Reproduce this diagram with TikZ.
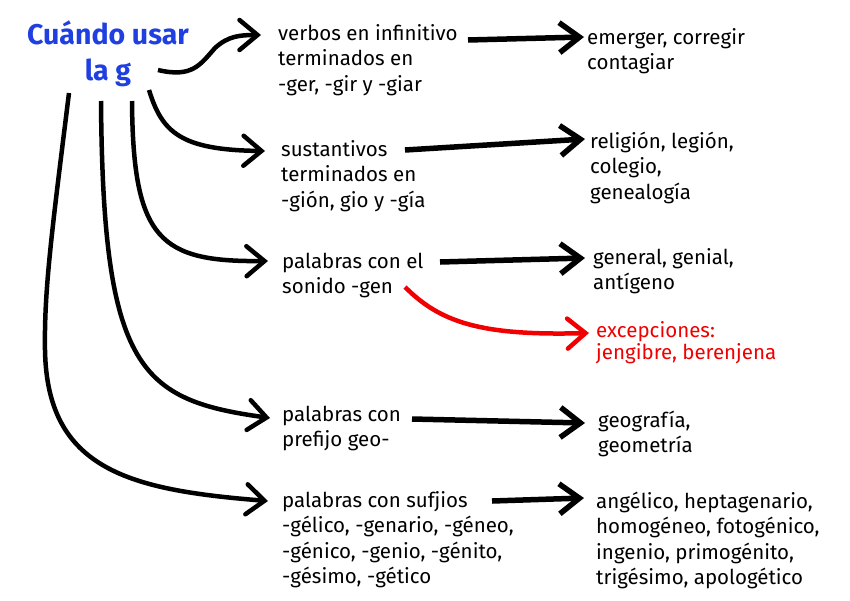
\documentclass[tikz,border=0pt]{standalone}
\usepackage{fontspec}
\setmainfont{Fira Sans}
\usetikzlibrary{arrows.meta}
\definecolor{titleblue}{HTML}{1F3FE0}
\definecolor{exred}{HTML}{F00000}
\tikzset{
  txt/.style={anchor=base west, inner sep=0pt, align=left, font=\fontsize{20.5}{25.5}\selectfont},
  redtxt/.style={txt, text=exred, font=\fontsize{20.5}{22}\selectfont},
  title/.style={inner sep=0pt, align=center, text=titleblue, font=\fontsize{28.5}{36}\selectfont\bfseries},
  curv/.style={line width=4.5pt, -{Straight Barb[length=18pt,width=30pt,line cap=round]}},
  straight/.style={line width=5.5pt, -{Straight Barb[length=20pt,width=30pt]}},
}
\begin{document}
\begin{tikzpicture}[x=1pt,y=-1pt]
\useasboundingbox (0,0) rectangle (850,600);
\fill[white] (0,0) rectangle (850,600);
\node[title] (T) at (108,54) {Cuándo usar\\la g};

% nodes are placed at the baseline of their last line
\node[txt] (t1) at (278,91) {verbos en infinitivo\\terminados en\\-ger, -gir y -giar};
\node[txt] (e1) at (587,69.5) {emerger, corregir\\contagiar};
\node[txt] (t2) at (281,207) {sustantivos\\terminados en\\-gión, gio y -gía};
\node[txt] (e2) at (590,199) {religión, legión,\\colegio,\\genealogía};
\node[txt] (t3) at (282,293.5) {palabras con el\\sonido -gen};
\node[txt] (e3) at (593,289.5) {general, genial,\\antígeno};
\node[redtxt] (x3) at (596,359) {excepciones:\\jengibre, berenjena};
\node[txt] (t4) at (282,446.5) {palabras con\\prefijo geo-};
\node[txt] (e4) at (598,452.5) {geografía,\\geometría};
\node[txt] (t5) at (282,583.5) {palabras con sufjios\\-gélico, -genario, -géneo,\\-génico, -genio, -génito,\\-gésimo, -gético};
\node[txt] (e5) at (596,584.5) {angélico, heptagenario,\\homogéneo, fotogénico,\\ingenio, primogénito,\\trigésimo, apologético};

% start / end points of connectors
\coordinate (s1) at (158,70);  \coordinate (p1) at (261,35);
\coordinate (s2) at (149,90);  \coordinate (p2) at (265,151);
\coordinate (s3) at (132,101); \coordinate (p3) at (268,261);
\coordinate (s4) at (101,101); \coordinate (p4) at (270,418);
\coordinate (s5) at (69,93);   \coordinate (m5) at (45,350); \coordinate (p5) at (268,501);

\draw[curv] (s1) .. controls (192,78) and (200,65) .. (215,48) .. controls (228,36) and (240,35) .. (p1);
\draw[curv] (s2) .. controls (162,132) and (180,150) .. (p2);
\draw[curv] (s3) .. controls (133,240) and (160,262) .. (p3);
\draw[curv] (s4) .. controls (103,370) and (140,400) .. (p4);
\draw[curv] (s5) .. controls (52,230) and (44,290) .. (m5) .. controls (47,470) and (130,490) .. (p5);

\coordinate (q1) at (468,40);  \coordinate (r1) at (584,37);
\coordinate (q2) at (405,150); \coordinate (r2) at (585,139);
\coordinate (q3) at (440,262); \coordinate (r3) at (585,258);
\coordinate (q4) at (412,419); \coordinate (r4) at (585,423);
\coordinate (q5) at (492,501); \coordinate (r5) at (584,498);
\draw[straight] (q1) -- (r1);
\draw[straight] (q2) -- (r2);
\draw[straight] (q3) -- (r3);
\draw[straight] (q4) -- (r4);
\draw[straight] (q5) -- (r5);

\coordinate (q6) at (405,287); \coordinate (r6) at (589,333);
\draw[curv, exred] (q6) .. controls (440,322) and (480,336) .. (r6);
\end{tikzpicture}
\end{document}
